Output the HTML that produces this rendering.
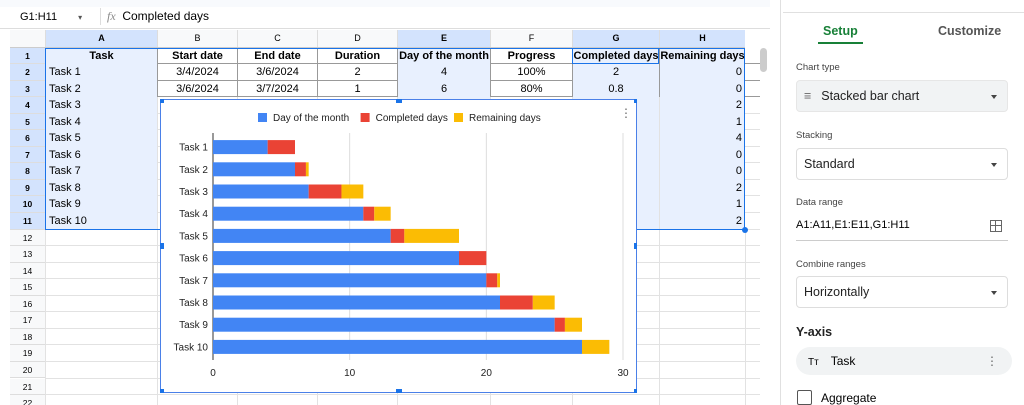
<!DOCTYPE html>
<html><head><meta charset="utf-8"><style>
html,body{margin:0;width:1024px;height:405px;overflow:hidden}
body{background:#fff;font-family:"Liberation Sans",Arial,sans-serif;position:relative}
.a{position:absolute}
.cell{position:absolute;font-size:11px;color:#000;box-sizing:border-box;line-height:17px;white-space:nowrap;overflow:hidden}
.lbl{font-size:9.5px;color:#444}
.dd{position:absolute;left:796px;width:212px;height:32px;border:1px solid #ddd;border-radius:4px;box-sizing:border-box;font-size:12.5px;line-height:30px;padding-left:7px;color:#222}
.dd:after{content:"";position:absolute;right:10px;top:14px;border:3.5px solid transparent;border-top:4px solid #444}
</style></head><body>
<div class="a" style="left:0;top:0;width:770px;height:7px;background:#f8fafd"></div>
<div class="a" style="left:20px;top:9px;font-size:11px;line-height:16px">G1:H11 <span style="margin-left:18px;font-size:8px;color:#555">▾</span></div>
<div class="a" style="left:100px;top:8px;font-size:12px;line-height:17px;border-left:1px solid #ddd;padding-left:6px"><i style="color:#888;font-family:'Liberation Serif',serif">fx</i>&nbsp; Completed days</div>
<div class="a" style="left:0;top:28px;width:770px;height:1px;background:#ddd"></div>
<div id="grid"></div>
<div class="a" style="left:760px;top:48px;width:7px;height:24px;background:#ccc;border-radius:4px"></div>
<div class="a" style="left:780px;top:0;width:244px;height:405px;background:#fff;border-left:1px solid #e0e0e0"></div>
<div class="a" style="left:783px;top:12px;width:241px;height:1px;background:#e0e0e0"></div>
<div class="a" style="left:823px;top:24px;font-size:12.5px;font-weight:bold;color:#188038">Setup</div>
<div class="a" style="left:818px;top:42px;width:45px;height:2px;background:#188038"></div>
<div class="a" style="left:938px;top:24px;font-size:12.5px;font-weight:bold;color:#555">Customize</div>
<div class="a lbl" style="left:796px;top:62px">Chart type</div>
<div class="dd" style="top:80px;background:#f1f3f4;border-color:#e6e6e6"><span style="color:#666;margin-right:10px">≡</span>Stacked bar chart</div>
<div class="a lbl" style="left:796px;top:130px">Stacking</div>
<div class="dd" style="top:148px">Standard</div>
<div class="a lbl" style="left:796px;top:197px">Data range</div>
<div class="a" style="left:796px;top:219px;font-size:11px">A1:A11,E1:E11,G1:H11</div>
<div class="a" style="left:990px;top:220px;width:10px;height:10px;border:1px solid #666;background:linear-gradient(#666,#666) 4px 0/1px 10px no-repeat,linear-gradient(#666,#666) 0 4px/10px 1px no-repeat"></div>
<div class="a" style="left:796px;top:240px;width:212px;height:1px;background:#ccc"></div>
<div class="a lbl" style="left:796px;top:259px">Combine ranges</div>
<div class="dd" style="top:276px">Horizontally</div>
<div class="a" style="left:796px;top:325px;font-size:12.5px;font-weight:bold;color:#222">Y-axis</div>
<div class="a" style="left:796px;top:347px;width:216px;height:28px;border-radius:14px;background:#f1f3f4;font-size:12px;line-height:28px"><span style="margin-left:12px;font-size:10px">Tт</span><span style="margin-left:12px">Task</span><span style="position:absolute;right:14px;color:#666">⋮</span></div>
<div class="a" style="left:797px;top:390px;width:13px;height:13px;border:1.5px solid #555;border-radius:2px"></div>
<div class="a" style="left:821px;top:391px;font-size:12px">Aggregate</div>

<div class="a" style="left:160px;top:99px;width:477px;height:294px;background:#fff;border:1px solid #4a80e8;box-sizing:border-box">
<svg id="svg" width="477" height="294" style="position:absolute;left:-1px;top:-1px;font-family:'Liberation Sans',Arial,sans-serif"></svg>
</div>
<script>
const cols=[["",10,45],["A",45,157],["B",157,237],["C",237,317],["D",317,397],["E",397,490],["F",490,572],["G",572,659],["H",659,745]];
const sel={A:1,E:1,G:1,H:1};
const rows=[["Task","Start date","End date","Duration","Day of the month","Progress","Completed days","Remaining days"],
["Task 1","3/4/2024","3/6/2024","2","4","100%","2","0"],["Task 2","3/6/2024","3/7/2024","1","6","80%","0.8","0"],
["Task 3","","","","","","","2"],["Task 4","","","","","","","1"],["Task 5","","","","","","","4"],["Task 6","","","","","","","0"],
["Task 7","","","","","","","0"],["Task 8","","","","","","","2"],["Task 9","","","","","","","1"],["Task 10","","","","","","","2"]];
const g=document.getElementById('grid');let h='';
const top0=30,rh=16.55,ry0=47.5;
h+=`<div class="a" style="left:10px;top:${top0}px;width:735px;height:17px;background:#f8f9fa;border-bottom:1px solid #ccc"></div>`;
cols.forEach((c,i)=>{if(i>0){h+=`<div class="cell" style="left:${c[1]}px;top:${top0}px;width:${c[2]-c[1]}px;height:17px;text-align:center;font-size:9px;${sel[c[0]]?'background:#d3e3fd;font-weight:bold':''};border-left:1px solid #ddd">${c[0]}</div>`;}});
for(let r=1;r<=22;r++){const y=ry0+(r-1)*rh;
 h+=`<div class="cell" style="left:10px;top:${y}px;width:35px;height:${rh}px;text-align:center;font-size:8.5px;background:${r<=11?'#d3e3fd':'#f8f9fa'};${r<=11?'font-weight:bold':''};border-bottom:1px solid #ddd;line-height:${rh}px">${r}</div>`;
 h+=`<div class="a" style="left:45px;top:${y+rh-1}px;width:715px;height:1px;background:${r<=3?'#999':'#e2e2e2'}"></div>`;
 if(r<=11){const d=rows[r-1];
  cols.slice(1).forEach((c,i)=>{const v=d[i];const s=sel[c[0]];
   const al=i==0&&r>1?'left;padding-left:3px':(i==7&&r>1?'right;padding-right:3px':'center');
   h+=`<div class="cell" style="left:${c[1]}px;top:${y}px;width:${c[2]-c[1]}px;height:${rh}px;line-height:${rh}px;text-align:${al};${s?'background:#e8f0fe;':''}${r==1?'font-weight:bold;':''}border-left:1px solid ${r<=3?'#999':'#e2e2e2'}">${v}</div>`;});}
}
for(const x of [45,157,237,317,397,490,572,659,745])h+=`<div class="a" style="left:${x}px;top:${ry0+11*rh}px;width:1px;height:${11*rh}px;background:#e2e2e2"></div>`;
h+=`<div class="a" style="left:45px;top:${ry0}px;width:700px;height:${11*rh}px;border:1px solid #1a73e8;box-sizing:border-box;background:transparent"></div>`;
h+=`<div class="a" style="left:572px;top:${ry0}px;width:87px;height:${rh}px;border:1.5px solid #1a73e8;box-sizing:border-box"></div>`;
h+=`<div class="a" style="left:742px;top:${ry0+11*rh-3}px;width:6px;height:6px;border-radius:3px;background:#1a73e8"></div>`;
g.innerHTML=h;
</script>
<script>
const categories=["Task 1","Task 2","Task 3","Task 4","Task 5","Task 6","Task 7","Task 8","Task 9","Task 10"];
const dayOfMonth=[4,6,7,11,13,18,20,21,25,27];
const completedDays=[2,0.8,2.4,0.8,1,2,0.8,2.4,0.75,0];
const remainingDays=[0,0.2,1.6,1.2,4,0,0.2,1.6,1.25,2];
const xTicks=[0,10,20,30];
const seriesNames=["Day of the month","Completed days","Remaining days"];
const colors=["#4285f4","#ea4335","#fbbc04"];
const svg=document.getElementById('svg');const NS='http://www.w3.org/2000/svg';
function el(t,a,txt){const e=document.createElementNS(NS,t);for(const k in a)e.setAttribute(k,a[k]);if(txt!=null)e.textContent=txt;svg.appendChild(e);return e;}
const x0=53,x1=463,xmax=30;const xs=v=>x0+v/xmax*(x1-x0);
const yTop=37,yBot=259,band=(yBot-yTop)/categories.length;const yc=i=>yTop+band*(i+0.5);
xTicks.forEach(t=>{const gl=el('line',{x1:xs(t),x2:xs(t),y1:34,y2:yBot+2,stroke:t==0?'#333':'#ddd','stroke-width':1});

const tl=el('text',{x:xs(t),y:yBot+18,'text-anchor':'middle','font-size':10,fill:'#222'},t);
});
const series=[dayOfMonth,completedDays,remainingDays];
categories.forEach((c,i)=>{let acc=0;
 series.forEach((s,k)=>{const v=s[i];if(v>0){const r=el('rect',{x:xs(acc),y:yc(i)-7,width:xs(acc+v)-xs(acc),height:14,fill:colors[k]});
 }acc+=v;});
 const l=el('text',{x:x0-5,y:yc(i)+3.5,'text-anchor':'end','font-size':10,fill:'#222'},c);
 });
let lx=98;seriesNames.forEach((n,k)=>{const r=el('rect',{x:lx,y:14,width:9,height:9,fill:colors[k]});

const t=el('text',{x:lx+15,y:22,'font-size':10,fill:'#222'},n);
lx+=15+n.length*4.6+14;});
const m=el('text',{x:466,y:18,'font-size':12,fill:'#666','text-anchor':'middle'},'⋮');
[[1,1],[239,1],[477,1],[1,147],[477,147],[1,293],[239,293],[477,293]].forEach(p=>{const h=el('rect',{x:p[0]-3,y:p[1]-3,width:6,height:6,fill:'#1a73e8'});});
</script>
</body></html>
